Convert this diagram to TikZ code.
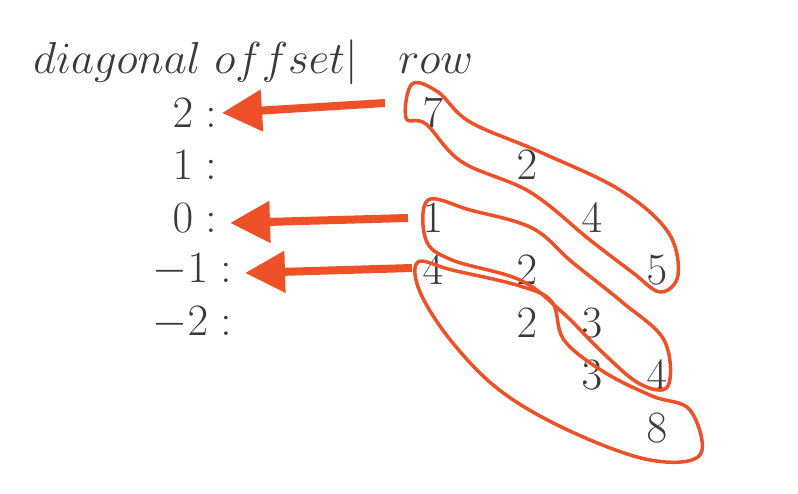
\documentclass[tikz,border=0pt]{standalone}
\usepackage{fix-cm}
\usepackage{fontspec}
\usetikzlibrary{arrows.meta}
\definecolor{ink}{HTML}{3A3A3A}
\definecolor{org}{HTML}{EE5128}
\begin{document}
\begin{tikzpicture}[x=1pt,y=-1pt,
  t/.style={text=ink,font=\fontsize{32}{38}\selectfont,inner sep=0pt,transform shape,scale=1.4},
  lab/.style={t,anchor=east},
  arr/.style={org,line width=8pt,-{Triangle[length=40pt,width=40pt]}},
  loop/.style={org,line width=3.5pt,line join=round}]
\useasboundingbox (0,0) rectangle (798,494);
\node[t,anchor=west] (h) at (33,62) {$diagonal\ offset|\ \ \ row$};
\node[lab] (l2) at (217,113) {$2:$};
\node[lab] (l1) at (217,165) {$1:$};
\node[lab] (l0) at (217,218) {$0:$};
\node[lab] (lm1) at (232,270) {$-1:$};
\node[lab] (lm2) at (232,323) {$-2:$};
\foreach \n/\x/\y/\v in {a/433/113/7,b/527/165/2,c/433/218/1,d/592/218/4,e/433/270/4,f/527/270/2,g/657/270/5,h2/527/323/2,i/592/323/3,j/592/375/3,k/657/375/4,m/657/428/8}
  \node[t] (\n) at (\x,\y) {$\v$};
\coordinate (s1) at (385,103); \coordinate (e1) at (222,113);
\coordinate (s2) at (408,218); \coordinate (e2) at (230,223);
\coordinate (s3) at (412,268); \coordinate (e3) at (245,273);
\draw[arr] (s1) -- (e1);
\draw[arr] (s2) -- (e2);
\draw[arr] (s3) -- (e3);
\draw[loop] plot[smooth cycle,tension=0.6] coordinates {(412,84) (438,92) (470,122) (540,152) (620,190) (668,232) (678,275) (660,292) (632,272) (590,240) (530,192) (462,162) (426,124) (406,118)};
\draw[loop] plot[smooth cycle,tension=0.6] coordinates {(428,200) (470,210) (532,228) (572,262) (622,302) (664,340) (668,386) (640,384) (602,352) (562,312) (520,280) (452,260) (426,240)};
\draw[loop] plot[smooth cycle,tension=0.6] coordinates {(418,262) (452,270) (520,286) (552,302) (564,340) (604,372) (652,396) (690,410) (700,455) (650,460) (572,432) (502,392) (452,342) (420,292)};
\end{tikzpicture}
\end{document}
